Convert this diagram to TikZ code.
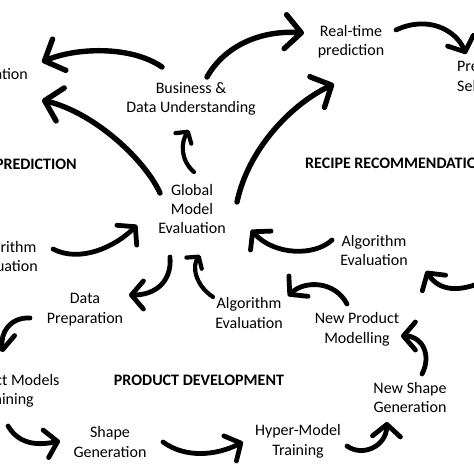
\documentclass[tikz,border=0pt]{standalone}
\usepackage{fontspec}
\setmainfont{Carlito}
\usetikzlibrary{arrows.meta}
\begin{document}
\begin{tikzpicture}[x=1pt,y=-1pt,
  lbl/.style={align=center,inner sep=0pt,font=\fontsize{16}{19.5}\selectfont},
  hdr/.style={inner sep=0pt,font=\fontsize{16}{19.5}\selectfont\bfseries},
  arr/.style={line width=4.8pt,line cap=round,
    -{Straight Barb[length=12pt,width=28pt,round]}},
  arrL/.style={line width=5.4pt,line cap=round,
    -{Straight Barb[length=16pt,width=34pt,round]}},
  arrS/.style={line width=4.2pt,line cap=round,
    -{Straight Barb[length=8pt,width=19pt,round]}}]
\useasboundingbox (0,0) rectangle (474,474);
\fill[white] (0,0) rectangle (474,474);
% texts
\node[lbl] (bus) at (191,99) {Business \&\\Data Understanding};
\node[lbl] (rt) at (351,41.5) {Real-time\\prediction};
\node[lbl,anchor=west,align=left] (pre) at (457,76) {Prediction\\Selection};
\node[lbl,anchor=east] (evtl) at (28,74) {Evaluation};
\node[hdr,anchor=east] (hpred) at (77,164) {PREDICTION};
\node[hdr,anchor=west] (hrec) at (305,163) {RECIPE RECOMMENDATION};
\node[lbl] (glob) at (192,209) {Global\\Model\\Evaluation};
\node[lbl] (algl) at (4,256.5) {Algorithm\\Evaluation};
\node[lbl] (dp) at (85,309.5) {Data\\Preparation};
\node[lbl] (pmt) at (8,391) {Product Models\\Training};
\node[lbl] (sg) at (110,442) {Shape\\Generation};
\node[hdr] (hpd) at (199,380) {PRODUCT DEVELOPMENT};
\node[lbl] (hmt) at (298,441.5) {Hyper-Model\\Training};
\node[lbl] (nsg) at (410,397.5) {New Shape\\Generation};
\node[lbl] (npm) at (357,329.5) {New Product\\Modelling};
\node[lbl] (algm) at (249,313) {Algorithm\\Evaluation};
\node[lbl] (algr) at (374,250.5) {Algorithm\\Evaluation};
% connector ends
\coordinate (e1) at (42,62);
\coordinate (e2) at (42,100);
\coordinate (e17) at (3,352);
\coordinate (s12) at (480,283);
% arrows
\draw[arrL] (162,67) .. controls (130,45) and (75,48) .. (e1);
\draw[arrL] (160,193) .. controls (145,160) and (95,113) .. (e2);
\draw[arrS] (194,172) .. controls (180,160) and (181,142) .. (189,130);
\draw[arrL] (207,77) .. controls (225,45) and (262,30) .. (304,33);
\draw[arr] (396,30) .. controls (428,15) and (456,30) .. (466,54);
\draw[arrL] (237,202) .. controls (248,150) and (290,105) .. (334,84);
\draw[arr] (53,249) .. controls (80,263) and (115,247) .. (137,225);
\draw[arr] (170,257) .. controls (172,282) and (155,295) .. (129,295);
\draw[arrS] (213,297) .. controls (195,285) and (192,266) .. (200,255);
\draw[arr] (332,240) .. controls (315,256) and (275,256) .. (251,230);
\draw[arr] (347,304) .. controls (335,281) and (305,280) .. (288,296);
\draw[arr] (s12) .. controls (460,291) and (440,292) .. (426,271);
\draw[arr] (422,374) .. controls (432,355) and (422,336) .. (401,336);
\draw[arr] (347,446) .. controls (362,457) and (386,447) .. (387,422);
\draw[arr] (163,442) .. controls (185,458) and (215,456) .. (243,442);
\draw[arr] (8,426) .. controls (20,446) and (40,445) .. (60,441);
\draw[arr] (30,318) .. controls (10,317) and (0,333) .. (e17);
\end{tikzpicture}
\end{document}
